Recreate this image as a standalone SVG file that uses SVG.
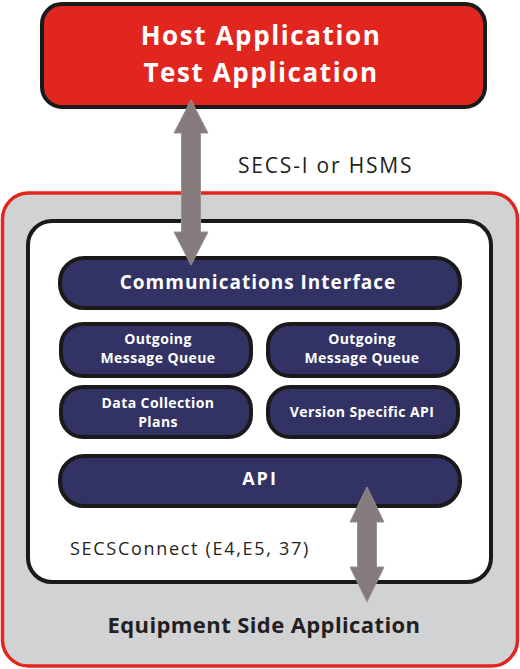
<svg xmlns="http://www.w3.org/2000/svg" width="520" height="669" viewBox="0 0 520 669">
<style>
.t{font-family:"Open Sans","Liberation Sans",sans-serif;font-weight:bold;fill:#fff;text-anchor:middle}
.s{font-size:14px;letter-spacing:0.4px}
.mod{fill:#323264;stroke:#1a1a1a;stroke-width:4}
.arr{fill:#857b7c;stroke:#9a9191;stroke-width:1}
.lab{font-family:"Open Sans","Liberation Sans",sans-serif;fill:#231f20}
</style>
<rect width="520" height="669" fill="#fff"/>
<g id="equipment">
<rect x="2.5" y="193" width="515" height="473" rx="26" fill="#d1d2d4" stroke="#e0261f" stroke-width="3.5"/>
<text class="lab" x="264" y="633" font-size="22" font-weight="bold" text-anchor="middle" letter-spacing="0.4">Equipment Side Application</text>
</g>
<g id="secsconnect">
<rect x="28" y="221" width="463" height="361" rx="24" fill="#fff" stroke="#1a1a1a" stroke-width="4"/>
<text class="lab" x="70" y="555" font-size="18" letter-spacing="1.7">SECSConnect (E4,E5, 37)</text>
</g>
<g id="host">
<rect x="42" y="4" width="443" height="103" rx="20" fill="#e0261f" stroke="#1a1a1a" stroke-width="4"/>
<text class="t" x="261" y="45" font-size="26" letter-spacing="1.6">Host Application</text>
<text class="t" x="261" y="82" font-size="26" letter-spacing="1.6">Test Application</text>
</g>
<g id="comm">
<rect class="mod" x="60" y="258" width="400" height="50" rx="24"/>
<text class="t" x="258" y="289" font-size="19" letter-spacing="1">Communications Interface</text>
</g>
<g id="omq1">
<rect class="mod" x="61" y="324" width="190" height="52" rx="22"/>
<text class="t s" x="158" y="344">Outgoing</text>
<text class="t s" x="158" y="363">Message Queue</text>
</g>
<g id="omq2">
<rect class="mod" x="268" y="324" width="190" height="52" rx="22"/>
<text class="t s" x="362" y="344">Outgoing</text>
<text class="t s" x="362" y="363">Message Queue</text>
</g>
<g id="dcp">
<rect class="mod" x="61" y="387" width="190" height="50" rx="22"/>
<text class="t s" x="158" y="408">Data Collection</text>
<text class="t s" x="158" y="427">Plans</text>
</g>
<g id="vsapi">
<rect class="mod" x="268" y="387" width="190" height="50" rx="22"/>
<text class="t s" x="362" y="417" letter-spacing="0.5">Version Specific API</text>
</g>
<g id="api">
<rect class="mod" x="60" y="456" width="400" height="50" rx="24"/>
<text class="t" x="260" y="485" font-size="18" letter-spacing="2">API</text>
</g>
<g id="connectors">
<polygon class="arr" points="191,100 208,133 200.5,133 200.5,232 208,232 191,265 174,232 181.5,232 181.5,133 174,133"/>
<polygon class="arr" points="367,487 384,522 376.5,522 376.5,567 384,567 367,602 350,567 357.5,567 357.5,522 350,522"/>
<text class="lab" x="238" y="173" font-size="21" letter-spacing="1.8">SECS-I or HSMS</text>
</g>
</svg>
